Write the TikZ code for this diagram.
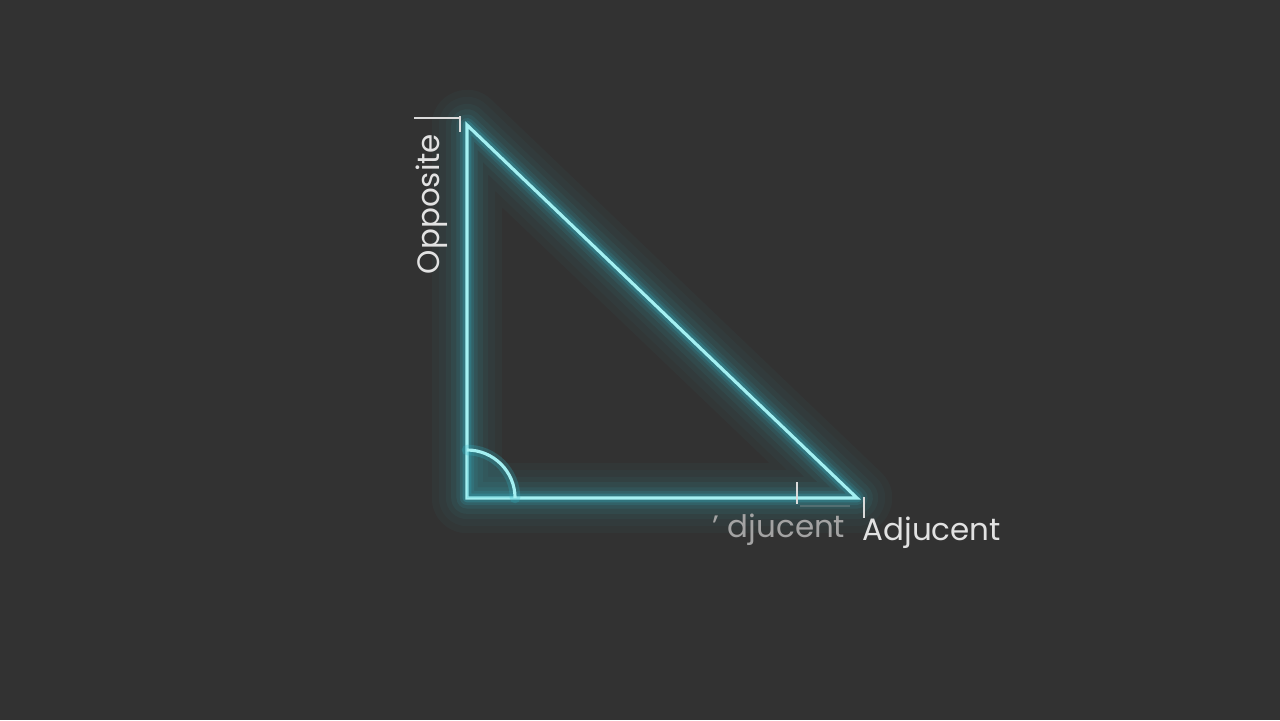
\documentclass[tikz,border=0pt]{standalone}
\usepackage{fontspec}
\setmainfont{Poppins}
\usetikzlibrary{positioning}
\definecolor{bg}{HTML}{323232}
\definecolor{cy}{HTML}{A4F0F2}
\definecolor{gl}{HTML}{35B4C4}
\begin{document}
\begin{tikzpicture}[x=0.01cm, y=-0.01cm, node distance=0.1cm,
	gw/.style={draw=gl, line join=round, line cap=round, line width=#1},
	ln/.style={draw=cy, line width=0.9pt, line join=miter},
	tk/.style={draw=white!82!bg, line width=0.6pt},
	t/.style={text=white!86!bg, font=\fontsize{8.8}{10}\selectfont, inner sep=0pt}]
		\fill[bg] (0,0) rectangle (1280,720);
		\coordinate (A) at (467,125);
		\coordinate (B) at (467,498);
		\coordinate (C) at (857,498);

		% glow
		\foreach \w/\o in {20/0.04, 16/0.04, 12/0.05, 9/0.07, 6/0.1, 4/0.15, 2.5/0.25}
			\draw[gw=\w pt, opacity=\o] (A) -- (B) -- (C) -- cycle;
		\draw[ln] (A) -- (B) -- (C) -- cycle;

		% angle
		\fill[gl, opacity=0.2] (B) -- ++(0.48cm,0) arc[start angle=0, end angle=90, radius=0.48cm] -- cycle;
		\draw[gw=3pt, opacity=0.25] (B) ++(0.48cm,0) arc[start angle=0, end angle=90, radius=0.48cm];
		\draw[ln] (B) ++(0.48cm,0) arc[start angle=0, end angle=90, radius=0.48cm];

		% ticks
		\draw[tk] (414,118) -- (460,118);
		\draw[tk] (460,116) -- (460,132);
		\draw[tk] (797,482) -- (797,504);
		\draw[tk] (864,497) -- (864,518);
		\draw[tk, opacity=0.2] (800,506) -- (850,506);

		% labels
		\node[t, rotate=90] (opp) at (432,204) {Opposite};
		\node[t, text=white!55!bg] (adj1) at (779,530) {\textquoteright\ djucent};
		\node[t, right=0.16cm of adj1, yshift=-0.03cm] (adj2) {Adjucent};
	\end{tikzpicture}
\end{document}
